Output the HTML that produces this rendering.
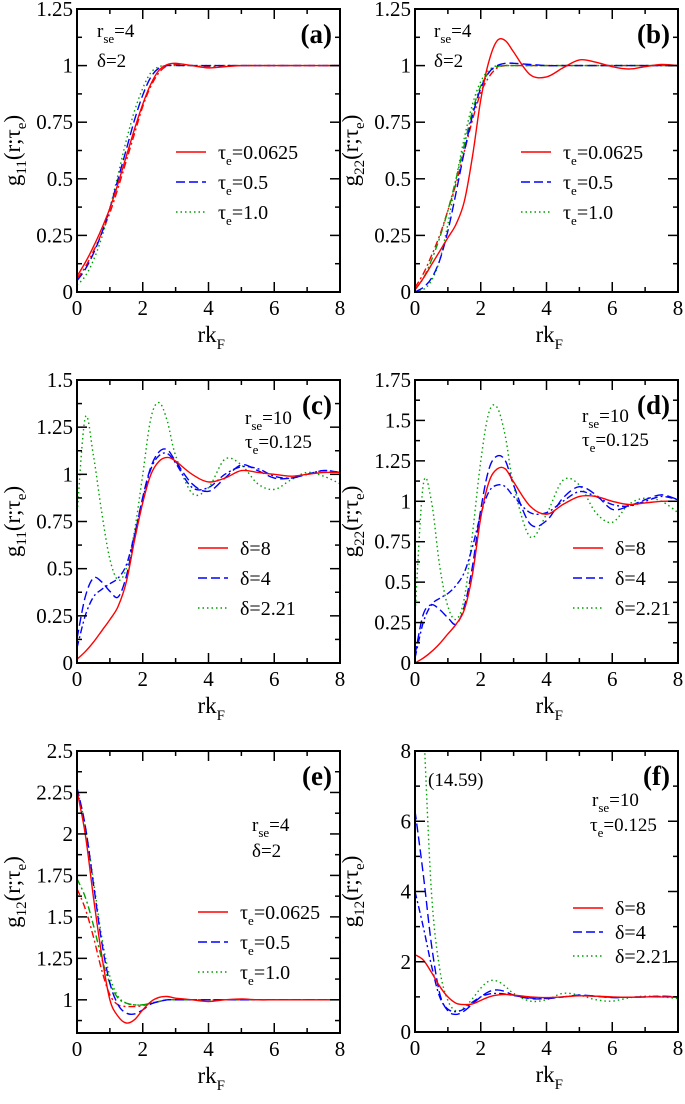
<!DOCTYPE html>
<html><head><meta charset="utf-8"><style>
body{margin:0;background:#fff;}
svg, svg text{font-family:"Liberation Serif","Times New Roman","DejaVu Serif","Noto Serif CJK SC",serif;}
</style></head><body>
<svg id="fig" width="685" height="1099" viewBox="0 0 685 1099" xmlns="http://www.w3.org/2000/svg"></svg>
<script>
const xGrid=[0,0.25,0.5,0.75,1,1.25,1.5,1.75,2,2.25,2.5,2.75,3,3.5,4,4.5,5,5.5,6,6.5,7,7.5,8];
const xTicks=[0,2,4,6,8];
// panel a
const aRed=[0.07,0.13,0.2,0.28,0.37,0.48,0.6,0.72,0.83,0.92,0.98,1.005,1.01,1.0,0.99,0.995,1,1,1,1,1,1,1];
const aBlue=[0.05,0.1,0.17,0.26,0.37,0.5,0.63,0.76,0.87,0.95,0.99,1.0,1.0,1,1,1,1,1,1,1,1,1,1];
const aGreen=[0.03,0.07,0.14,0.24,0.37,0.52,0.67,0.8,0.9,0.97,0.995,1,1,1,1,1,1,1,1,1,1,1,1];
const aRedDD=[0.06,0.11,0.18,0.26,0.35,0.46,0.58,0.7,0.82,0.91,0.97,1.0,1.005,1.0,0.995,1,1,1,1,1,1,1,1];
// panel b
const bRed=[0.01,0.06,0.12,0.18,0.24,0.3,0.4,0.6,0.85,1.02,1.11,1.11,1.06,0.96,0.95,0.99,1.025,1.015,0.995,0.985,0.995,1.005,1.0];
const bBlue=[0.0,0.02,0.06,0.14,0.27,0.44,0.62,0.78,0.9,0.97,1.0,1.01,1.01,1.005,1,1,1,1,1,1,1,1,1];
const bGreen=[0.0,0.01,0.05,0.14,0.3,0.5,0.68,0.83,0.93,0.98,1.0,1.0,1.0,1,1,1,1,1,1,1,1,1,1];
const bRedDD=[0.02,0.08,0.16,0.25,0.36,0.48,0.62,0.76,0.88,0.95,0.99,1.0,1.0,1,1,1,1,1,1,1,1,1,1];
const bGreenDD=[0.01,0.06,0.14,0.24,0.36,0.5,0.65,0.8,0.91,0.97,0.995,1,1,1,1,1,1,1,1,1,1,1,1];
// panel c
const cRed=[0.02,0.06,0.11,0.17,0.23,0.3,0.43,0.65,0.85,1.0,1.07,1.09,1.07,1.0,0.96,0.98,1.02,1.01,1.0,0.99,1.0,1.01,1.01];
const cBlue=[0.13,0.35,0.45,0.43,0.38,0.35,0.46,0.67,0.88,1.04,1.12,1.13,1.07,0.95,0.91,0.98,1.05,1.02,0.98,0.98,1.0,1.02,1.01];
const cGreen=[0.78,1.3,1.1,0.8,0.55,0.44,0.5,0.7,1.0,1.3,1.38,1.28,1.1,0.9,0.93,1.08,1.05,0.95,0.92,0.97,1.01,0.99,0.95];
const cBlueDD=[0.08,0.25,0.35,0.39,0.42,0.45,0.52,0.68,0.87,1.03,1.1,1.11,1.06,0.93,0.93,1.0,1.04,1.03,0.99,0.98,1.0,1.02,1.01];
// panel d
const dRed=[0.0,0.03,0.07,0.12,0.18,0.24,0.33,0.55,0.9,1.12,1.2,1.2,1.12,0.97,0.92,0.98,1.03,1.03,1.0,0.98,0.99,1.0,1.0];
const dBlue=[0.05,0.3,0.36,0.33,0.28,0.24,0.35,0.6,0.95,1.2,1.28,1.25,1.1,0.86,0.88,1.02,1.09,1.04,0.95,0.97,1.01,1.04,1.01];
const dGreen=[0.3,1.1,1.0,0.6,0.35,0.27,0.4,0.8,1.25,1.55,1.58,1.4,1.1,0.78,0.92,1.13,1.1,0.93,0.87,0.98,1.02,1.0,0.93];
const dBlueDD=[0.03,0.25,0.36,0.4,0.43,0.48,0.56,0.72,0.92,1.06,1.1,1.09,1.03,0.93,0.93,1.0,1.06,1.03,0.98,0.97,1.0,1.03,1.01];
// panel e
const eRed=[2.26,2.0,1.62,1.27,1.0,0.9,0.86,0.88,0.94,0.99,1.015,1.02,1.01,1.0,0.99,1.0,1.005,1,1,1,1,1,1];
const eBlue=[2.28,2.05,1.7,1.35,1.1,0.97,0.92,0.915,0.94,0.975,0.99,1.0,1.0,1,1,1,1,1,1,1,1,1,1];
const eGreen=[2.27,2.05,1.72,1.38,1.14,1.02,0.98,0.97,0.97,0.98,0.99,1.0,1,1,1,1,1,1,1,1,1,1,1];
const eRedDD=[1.67,1.55,1.38,1.18,1.03,0.97,0.96,0.96,0.965,0.98,0.99,1,1,1,1,1,1,1,1,1,1,1,1];
const eGreenDD=[1.73,1.62,1.45,1.25,1.1,1.01,0.98,0.97,0.97,0.98,0.99,1,1,1,1,1,1,1,1,1,1,1,1];
// panel f
const fRed=[2.2,2.05,1.7,1.3,1.0,0.82,0.78,0.8,0.9,1.0,1.05,1.07,1.05,1.0,0.98,1.0,1.03,1.02,1.0,0.99,1.0,1.0,1.0];
const fBlue=[6.3,4.5,2.5,1.1,0.6,0.5,0.6,0.8,1.0,1.15,1.2,1.15,1.05,0.95,0.95,1.0,1.05,1.02,0.98,0.99,1.0,1.02,1.0];
const fGreen=[14.59,9,4,1.8,0.9,0.6,0.7,0.95,1.25,1.45,1.45,1.3,1.1,0.88,0.92,1.1,1.05,0.92,0.88,0.97,1.02,1.0,0.95];
const fBlueDD=[4.0,3.0,1.9,1.0,0.65,0.58,0.66,0.85,1.0,1.08,1.1,1.08,1.04,0.97,0.96,1.0,1.04,1.02,0.99,0.99,1,1.01,1.0];

const NS="http://www.w3.org/2000/svg";
const svg=document.getElementById('fig');
function mk(tag,attrs,parent){const e=document.createElementNS(NS,tag);for(const k in attrs)e.setAttribute(k,attrs[k]);(parent||svg).appendChild(e);return e;}
const STY={red:{c:'#ff0000',d:''},blue:{c:'#0000ff',d:'9,4'},green:{c:'#00a000',d:'1.5,3'},
 redDD:{c:'#ff0000',d:'7,3,2,3'},blueDD:{c:'#0000ff',d:'7,3,2,3'},greenDD:{c:'#00a000',d:'7,3,2,3'}};

function panel(o){
  const g=mk('g',{});
  
  
  const L=o.x0,R=o.x0+263,T=o.y0,B=o.y0+o.h;
  const sx=v=>L+(v-0)/8*(R-L), sy=v=>B-(v-o.ymin)/(o.ymax-o.ymin)*(B-T);
  const cid='clip'+o.id;
  const cp=mk('clipPath',{id:cid},g);mk('rect',{x:L,y:T,width:R-L,height:B-T},cp);
  o.series.forEach(s=>{
    const st=STY[s.st];
    const pts=xGrid.map((x,i)=>[sx(x),sy(s.y[i])]);
    let d='M'+pts[0][0].toFixed(1)+','+pts[0][1].toFixed(1);
    for(let i=0;i<pts.length-1;i++){
      const p0=pts[Math.max(0,i-1)],p1=pts[i],p2=pts[i+1],p3=pts[Math.min(pts.length-1,i+2)];
      const c1=[p1[0]+(p2[0]-p0[0])/6,p1[1]+(p2[1]-p0[1])/6],c2=[p2[0]-(p3[0]-p1[0])/6,p2[1]-(p3[1]-p1[1])/6];
      d+='C'+c1.map(v=>v.toFixed(1))+' '+c2.map(v=>v.toFixed(1))+' '+p2.map(v=>v.toFixed(1));
    }
    const p=mk('path',{d:d,fill:'none',stroke:st.c,'stroke-width':1.4,'stroke-dasharray':st.d,'clip-path':'url(#'+cid+')'},g);
    
    
  });
  const fr=mk('rect',{x:L,y:T,width:R-L,height:B-T,fill:'none',stroke:'#000','stroke-width':2},g);
  
  
  for(let v=0;v<=8;v+=1){
    const X=sx(v),len=v%2===0?10:5;
    mk('line',{x1:X,y1:B,x2:X,y2:B-len,stroke:'#000','stroke-width':1.5},g);
    mk('line',{x1:X,y1:T,x2:X,y2:T+len,stroke:'#000','stroke-width':1.5},g);
  }
  xTicks.forEach(v=>{const t=mk('text',{x:sx(v),y:B+23,'font-size':21,'text-anchor':'middle'},g);t.textContent=v;
    });
  const i0=Math.ceil(o.ymin/o.minor-1e-6),i1=Math.floor(o.ymax/o.minor+1e-6);
  for(let i=i0;i<=i1;i++){
    const v=i*o.minor,Y=sy(v);
    const major=Math.abs(Math.round(v/o.major)*o.major-v)<1e-6;
    const len=major?10:5;
    mk('line',{x1:L,y1:Y,x2:L+len,y2:Y,stroke:'#000','stroke-width':1.5},g);
    mk('line',{x1:R,y1:Y,x2:R-len,y2:Y,stroke:'#000','stroke-width':1.5},g);
  }
  o.yLabels.forEach(v=>{const t=mk('text',{x:L-4,y:sy(v)+7,'font-size':21,'text-anchor':'end'},g);t.textContent=v;
    });
  const xt=mk('text',{x:(L+R)/2-11,y:B+50,'font-size':23},g);
  xt.innerHTML='rk<tspan font-size="15" dy="7">F</tspan>';
  
  const yt=mk('text',{transform:'translate('+(L-57)+','+((T+B)/2)+') rotate(-90)','font-size':23,'text-anchor':'middle'},g);
  yt.innerHTML='g<tspan font-size="15" dy="6">'+o.sub+'</tspan><tspan dy="-6">(r;τ</tspan><tspan font-size="15" dy="6">e</tspan><tspan dy="-6">)</tspan>';
  
  const pl=mk('text',{x:R-8,y:T+34,'font-size':27,'font-weight':'bold','text-anchor':'end'},g);
  pl.textContent='('+o.id+')';
  
  o.ann.forEach(a=>{const t=mk('text',{x:a[0],y:a[1],'font-size':19},g);t.innerHTML=a[2];
    });
  o.legend.forEach((e,i)=>{
    const Y=o.lg[1]+i*o.lg[2],st=STY[e[0]];
    const lg=mk('g',{},g);
    
    
    mk('line',{x1:o.lg[0],y1:Y,x2:o.lg[0]+30,y2:Y,stroke:st.c,'stroke-width':1.5,'stroke-dasharray':st.d},lg);
    const t=mk('text',{x:o.lg[0]+42,y:Y+7,'font-size':20},lg);t.innerHTML=e[1];
  });
}
const tauLeg=[['red','τ<tspan font-size="13" dy="6">e</tspan><tspan dy="-6">=0.0625</tspan>'],['blue','τ<tspan font-size="13" dy="6">e</tspan><tspan dy="-6">=0.5</tspan>'],['green','τ<tspan font-size="13" dy="6">e</tspan><tspan dy="-6">=1.0</tspan>']];
const delLeg=[['red','δ=8'],['blue','δ=4'],['green','δ=2.21']];
const rs4='r<tspan font-size="13" dy="6">se</tspan><tspan dy="-6">=4</tspan>';
const rs10='r<tspan font-size="13" dy="6">se</tspan><tspan dy="-6">=10</tspan>';
const tau125='τ<tspan font-size="13" dy="6">e</tspan><tspan dy="-6">=0.125</tspan>';
const q=[0,0.25,0.5,0.75,1,1.25];
panel({id:'a',x0:77,y0:9,h:283,ymin:0,ymax:1.25,minor:0.125,major:0.25,yLabels:q,sub:'11',
 series:[{st:'redDD',y:aRedDD},{st:'green',y:aGreen},{st:'blue',y:aBlue},{st:'red',y:aRed}],
 ann:[[97,37,rs4],[97,67,'δ=2']],legend:tauLeg,lg:[176,152,30]});
panel({id:'b',x0:415,y0:9,h:283,ymin:0,ymax:1.25,minor:0.125,major:0.25,yLabels:q,sub:'22',
 series:[{st:'redDD',y:bRedDD},{st:'greenDD',y:bGreenDD},{st:'green',y:bGreen},{st:'blue',y:bBlue},{st:'red',y:bRed}],
 ann:[[434,37,rs4],[434,67,'δ=2']],legend:tauLeg,lg:[521,152,30]});
panel({id:'c',x0:77,y0:380,h:283,ymin:0,ymax:1.5,minor:0.125,major:0.25,yLabels:[0,0.25,0.5,0.75,1,1.25,1.5],sub:'11',
 series:[{st:'green',y:cGreen},{st:'blueDD',y:cBlueDD},{st:'blue',y:cBlue},{st:'red',y:cRed}],
 ann:[[245,424,rs10],[245,448,tau125]],legend:delLeg,lg:[198,548,30]});
panel({id:'d',x0:415,y0:380,h:283,ymin:0,ymax:1.75,minor:0.125,major:0.25,yLabels:[0,0.25,0.5,0.75,1,1.25,1.5,1.75],sub:'22',
 series:[{st:'green',y:dGreen},{st:'blueDD',y:dBlueDD},{st:'blue',y:dBlue},{st:'red',y:dRed}],
 ann:[[582,422,rs10],[582,446,tau125]],legend:delLeg,lg:[573,548,30]});
panel({id:'e',x0:77,y0:751,h:282,ymin:0.8,ymax:2.5,minor:0.125,major:0.25,yLabels:[1,1.25,1.5,1.75,2,2.25,2.5],sub:'12',
 series:[{st:'redDD',y:eRedDD},{st:'greenDD',y:eGreenDD},{st:'green',y:eGreen},{st:'blue',y:eBlue},{st:'red',y:eRed}],
 ann:[[252,831,rs4],[252,857,'δ=2']],legend:tauLeg,lg:[198,912,30]});
panel({id:'f',x0:415,y0:751,h:281,ymin:0,ymax:8,minor:1,major:2,yLabels:[0,2,4,6,8],sub:'12',
 series:[{st:'green',y:fGreen},{st:'blueDD',y:fBlueDD},{st:'blue',y:fBlue},{st:'red',y:fRed}],
 ann:[[428,786,'(14.59)'],[592,806,rs10],[590,831,tau125]],legend:delLeg,lg:[573,908,24]});
</script>
</body></html>
